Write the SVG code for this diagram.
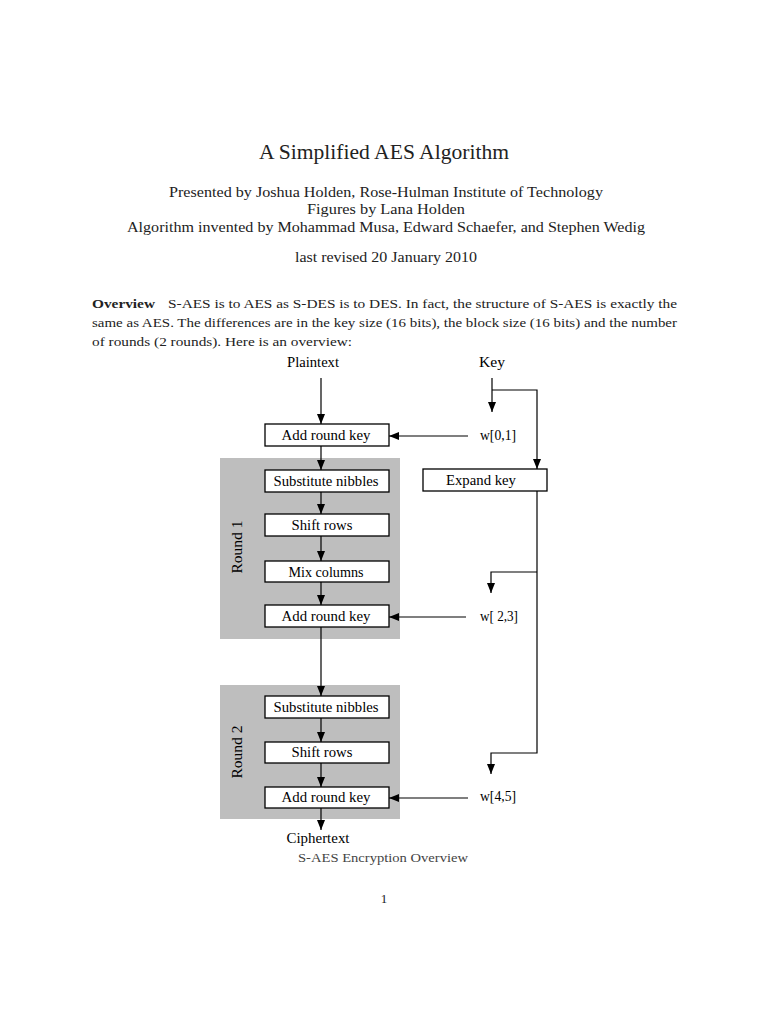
<svg xmlns="http://www.w3.org/2000/svg" width="768" height="1024" viewBox="0 0 768 1024">
<style>
.doc{font-family:"Liberation Serif","DejaVu Serif",serif;fill:#222}
.lbl{font-family:"Liberation Serif","DejaVu Serif",serif;font-size:14px;fill:#000}
.box{fill:#fff;stroke:#000;stroke-width:1.3}
.round{fill:#bebebe;stroke:none}
.conn{fill:none;stroke:#000;stroke-width:1.2}
</style>
<defs>
<marker id="arr" markerUnits="userSpaceOnUse" markerWidth="10" markerHeight="9" refX="10" refY="4" orient="auto" viewBox="0 0 10 8">
<path d="M0,0 L10,4 L0,8 z" fill="#000"/>
</marker>
</defs>
<rect width="768" height="1024" fill="#fff"/>

<g id="header" class="doc">
<text x="384" y="159" font-size="22" text-anchor="middle" textLength="250" lengthAdjust="spacingAndGlyphs">A Simplified AES Algorithm</text>
<text x="386" y="197" font-size="15" text-anchor="middle" textLength="434" lengthAdjust="spacingAndGlyphs">Presented by Joshua Holden, Rose-Hulman Institute of Technology</text>
<text x="386" y="214" font-size="15" text-anchor="middle" textLength="158" lengthAdjust="spacingAndGlyphs">Figures by Lana Holden</text>
<text x="386" y="232" font-size="15" text-anchor="middle" textLength="518" lengthAdjust="spacingAndGlyphs">Algorithm invented by Mohammad Musa, Edward Schaefer, and Stephen Wedig</text>
<text x="386" y="262" font-size="15" text-anchor="middle" textLength="182" lengthAdjust="spacingAndGlyphs">last revised 20 January 2010</text>
<text x="92" y="308" font-size="13.5" font-weight="bold" textLength="63" lengthAdjust="spacingAndGlyphs">Overview</text>
<text x="168" y="308" font-size="13.5" textLength="509" lengthAdjust="spacingAndGlyphs">S-AES is to AES as S-DES is to DES. In fact, the structure of S-AES is exactly the</text>
<text x="92" y="327" font-size="13.5" textLength="585" lengthAdjust="spacingAndGlyphs">same as AES. The differences are in the key size (16 bits), the block size (16 bits) and the number</text>
<text x="92" y="346" font-size="13.5" textLength="260" lengthAdjust="spacingAndGlyphs">of rounds (2 rounds). Here is an overview:</text>
</g>

<g id="round1"><rect class="round" x="220" y="458" width="180" height="181"/>
<text class="lbl" transform="translate(242,547) rotate(-90)" text-anchor="middle" textLength="53" lengthAdjust="spacingAndGlyphs">Round 1</text></g>
<g id="round2"><rect class="round" x="220" y="685" width="180" height="134"/>
<text class="lbl" transform="translate(242,752) rotate(-90)" text-anchor="middle" textLength="53" lengthAdjust="spacingAndGlyphs">Round 2</text></g>

<g id="connectors">
<path class="conn" d="M321,378 V424" marker-end="url(#arr)"/>
<path class="conn" d="M321,446 V470" marker-end="url(#arr)"/>
<path class="conn" d="M321,492 V514" marker-end="url(#arr)"/>
<path class="conn" d="M321,536 V561" marker-end="url(#arr)"/>
<path class="conn" d="M321,582 V605" marker-end="url(#arr)"/>
<path class="conn" d="M321,627 V696" marker-end="url(#arr)"/>
<path class="conn" d="M321,718 V742" marker-end="url(#arr)"/>
<path class="conn" d="M321,763 V787" marker-end="url(#arr)"/>
<path class="conn" d="M321,808 V830" marker-end="url(#arr)"/>
<path class="conn" d="M492,378 V412" marker-end="url(#arr)"/>
<path class="conn" d="M492,390 H537 V469" marker-end="url(#arr)"/>
<path class="conn" d="M468,436 H389" marker-end="url(#arr)"/>
<path class="conn" d="M537,491 V753 H491 V774" marker-end="url(#arr)" stroke-width="1.6"/>
<path class="conn" d="M537,572 H491 V593" marker-end="url(#arr)"/>
<path class="conn" d="M466,617 H389" marker-end="url(#arr)"/>
<path class="conn" d="M468,798 H389" marker-end="url(#arr)"/>
</g>

<g id="plaintext"><text class="lbl" x="313" y="367" text-anchor="middle" textLength="52" lengthAdjust="spacingAndGlyphs">Plaintext</text></g>
<g id="key"><text class="lbl" x="492" y="367" text-anchor="middle" textLength="26" lengthAdjust="spacingAndGlyphs">Key</text></g>
<g id="w01"><text class="lbl" x="480" y="440" textLength="36" lengthAdjust="spacingAndGlyphs">w[0,1]</text></g>
<g id="w23"><text class="lbl" x="480" y="621" textLength="38" lengthAdjust="spacingAndGlyphs">w[ 2,3]</text></g>
<g id="w45"><text class="lbl" x="480" y="801" textLength="36" lengthAdjust="spacingAndGlyphs">w[4,5]</text></g>

<g id="ark0"><rect class="box" x="265" y="424" width="124" height="22"/>
<text class="lbl" x="326" y="440" text-anchor="middle" textLength="89" lengthAdjust="spacingAndGlyphs">Add round key</text></g>
<g id="expand"><rect class="box" x="423" y="469" width="124" height="22"/>
<text class="lbl" x="481" y="485" text-anchor="middle" textLength="70" lengthAdjust="spacingAndGlyphs">Expand key</text></g>
<g id="sub1"><rect class="box" x="265" y="470" width="124" height="22"/>
<text class="lbl" x="326" y="486" text-anchor="middle" textLength="105" lengthAdjust="spacingAndGlyphs">Substitute nibbles</text></g>
<g id="shift1"><rect class="box" x="265" y="514" width="124" height="22"/>
<text class="lbl" x="322" y="530" text-anchor="middle" textLength="61" lengthAdjust="spacingAndGlyphs">Shift rows</text></g>
<g id="mix1"><rect class="box" x="265" y="561" width="124" height="21"/>
<text class="lbl" x="326" y="577" text-anchor="middle" textLength="75" lengthAdjust="spacingAndGlyphs">Mix columns</text></g>
<g id="ark1"><rect class="box" x="265" y="605" width="124" height="22"/>
<text class="lbl" x="326" y="621" text-anchor="middle" textLength="89" lengthAdjust="spacingAndGlyphs">Add round key</text></g>
<g id="sub2"><rect class="box" x="265" y="696" width="124" height="22"/>
<text class="lbl" x="326" y="712" text-anchor="middle" textLength="105" lengthAdjust="spacingAndGlyphs">Substitute nibbles</text></g>
<g id="shift2"><rect class="box" x="265" y="742" width="124" height="21"/>
<text class="lbl" x="322" y="757" text-anchor="middle" textLength="61" lengthAdjust="spacingAndGlyphs">Shift rows</text></g>
<g id="ark2"><rect class="box" x="265" y="787" width="124" height="21"/>
<text class="lbl" x="326" y="802" text-anchor="middle" textLength="89" lengthAdjust="spacingAndGlyphs">Add round key</text></g>
<g id="ciphertext"><text class="lbl" x="318" y="843" text-anchor="middle" textLength="63" lengthAdjust="spacingAndGlyphs">Ciphertext</text></g>

<g id="caption" class="doc">
<text x="383" y="862" font-size="13" text-anchor="middle" textLength="170" lengthAdjust="spacingAndGlyphs" fill="#444">S-AES Encryption Overview</text>
<text x="384" y="903" font-size="13" text-anchor="middle">1</text>
</g>
</svg>
